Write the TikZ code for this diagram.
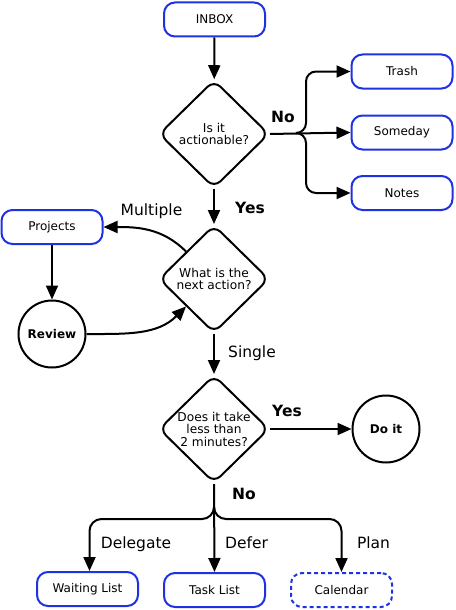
\documentclass[tikz,border=0pt]{standalone}
\usepackage{fontspec}
\setmainfont{DejaVu Sans}
\usetikzlibrary{shapes.geometric,arrows.meta,calc}
\definecolor{boxblue}{RGB}{30,50,225}
\tikzset{
  box/.style={draw=boxblue, line width=2pt, rounded corners=11pt, minimum width=101pt, minimum height=34pt, inner sep=2pt, font=\fontsize{12}{13}\selectfont},
  dashbox/.style={box, dash pattern=on 4pt off 3pt},
  decision/.style={draw, diamond, line width=2pt, rounded corners=9pt, minimum width=110pt, minimum height=108pt, inner sep=0pt, align=center, font=\fontsize{12.2}{12.5}\selectfont},
  roundnode/.style={draw, circle, line width=2pt, minimum size=67pt, inner sep=0pt, font=\fontsize{12}{13}\selectfont\bfseries},
  arrow/.style={line width=2pt, -{Triangle[length=14pt,width=12pt]}},
  lbl/.style={anchor=base, inner sep=0pt, font=\fontsize{15.5}{17}\selectfont},
  blbl/.style={lbl, font=\fontsize{15.5}{17}\selectfont\bfseries}
}
\begin{document}
\begin{tikzpicture}[x=1pt,y=1pt]
\useasboundingbox (0,0) rectangle (455,-610);
% nodes
\node[box] (inbox) at (214.5,-19.5) {INBOX};
\node[decision] (d1) at (214,-134) {Is it\\actionable?};
\node[box] (trash) at (402,-71.5) {Trash};
\node[box] (someday) at (402,-132.5) {Someday};
\node[box] (notes) at (402,-193) {Notes};
\node[decision] (d2) at (214,-279) {What is the\\next action?};
\node[box] (projects) at (52,-227) {Projects};
\node[roundnode] (review) at (52,-334) {Review};
\node[decision] (d3) at (214,-429) {Does it take\\less than\\2 minutes?};
\node[roundnode] (doit) at (386,-429) {Do it};
\node[box] (waiting) at (87.5,-589) {Waiting List};
\node[box] (task) at (214.5,-590) {Task List};
\node[dashbox] (cal) at (341.5,-590) {Calendar};
\coordinate (j1) at (300,-133);
\coordinate (j2) at (214,-510);
% connectors
\draw[arrow] (inbox) -- (d1);
\draw[arrow] (d1.east) -- (someday.west);
\draw[arrow, rounded corners=10pt] (j1) -- ++(6,0) |- (trash.west);
\draw[arrow, rounded corners=10pt] (j1) -- ++(6,0) |- (notes.west);
\draw[arrow] (d1.south) -- (d2.north);
\draw[arrow] (d2.north west) to[out=135, in=0] (projects.east);
\draw[arrow] (projects.south) -- (review.north);
\draw[arrow] (review.east) to[out=0, in=225] (d2.south west);
\draw[arrow] (d2.south) -- (d3.north);
\draw[arrow] (d3.east) -- (doit.west);
\draw[arrow] (d3.south) -- (task.north);
\draw[arrow, rounded corners=12pt] (j2) -- ++(0,-9) -| ([xshift=2pt]waiting.north);
\draw[arrow, rounded corners=12pt] (j2) -- ++(0,-9) -| (cal.north);
% labels
\node[blbl] (lno1) at (283,-122) {No};
\node[blbl] (lyes1) at (250,-213) {Yes};
\node[lbl] (lmult) at (151.5,-215) {Multiple};
\node[lbl] (lsingle) at (252,-357) {Single};
\node[blbl] (lyes2) at (287,-416) {Yes};
\node[blbl] (lno2) at (244,-499) {No};
\node[lbl] (ldel) at (136,-548) {Delegate};
\node[lbl] (ldef) at (246.5,-548) {Defer};
\node[lbl] (lplan) at (373.5,-548) {Plan};
\end{tikzpicture}
\end{document}
